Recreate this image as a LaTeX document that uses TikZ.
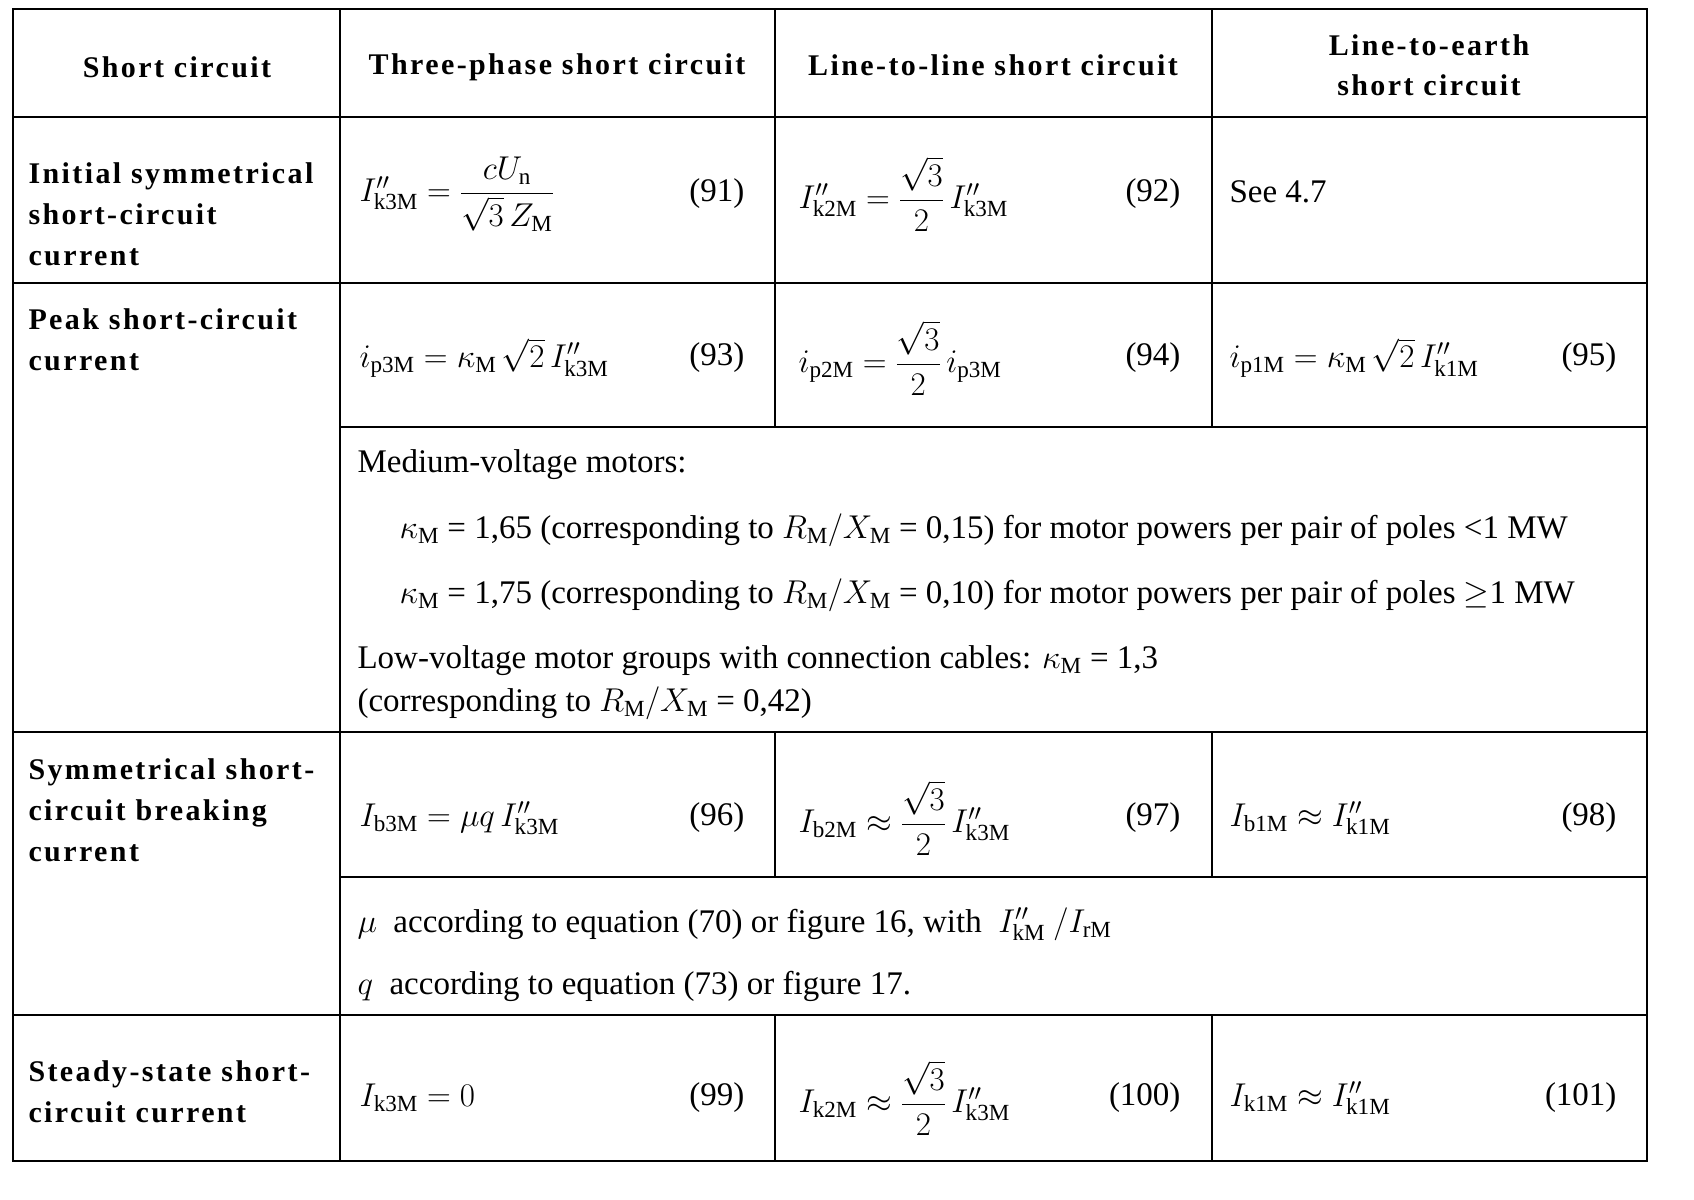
\documentclass[tikz,border=0pt]{standalone}
\usepackage{fix-cm}
\usepackage{amsmath}
\usepackage{fontspec}
\setmainfont{Liberation Serif}
\newfontfamily\hdfont[LetterSpace=8]{Liberation Serif}
\begin{document}
\begin{tikzpicture}[x=1pt,y=-1pt,
  ln/.style={line width=2.2pt},
  hd/.style={font=\fontsize{30}{40}\hdfont\bfseries, align=center},
  lb/.style={font=\fontsize{30}{41}\hdfont\bfseries, align=left, anchor=west},
  tx/.style={font=\fontsize{33}{42}\selectfont, anchor=west},
  fm/.style={font=\fontsize{33}{42}\selectfont, anchor=west},
  nr/.style={font=\fontsize{33}{40}\selectfont, anchor=east}]
\useasboundingbox (0,0) rectangle (1694,1199);
% grid
\draw[ln] (13,9) rectangle (1647,1161);
\foreach \y in {117,283,732,1015} \draw[ln] (13,\y) -- (1647,\y);
\foreach \y in {427,877} \draw[ln] (340,\y) -- (1647,\y);
\draw[ln] (340,9) -- (340,1161);
\draw[ln] (775,9) -- (775,427); \draw[ln] (1212,9) -- (1212,427);
\draw[ln] (775,732) -- (775,877); \draw[ln] (1212,732) -- (1212,877);
\draw[ln] (775,1015) -- (775,1161); \draw[ln] (1212,1015) -- (1212,1161);
% headers
\node[hd] (h1) at (177,67) {Short circuit};
\node[hd] (h2) at (557,67) {Three-phase short circuit};
\node[hd] (h3) at (993,65) {Line-to-line short circuit};
\node[hd] (h4) at (1429,65) {Line-to-earth\\short circuit};
% row labels
\node[lb] (r1) at (25,214) {Initial symmetrical\\short-circuit\\current};
\node[lb] (r2) at (25,340) {Peak short-circuit\\current};
\node[lb] (r3) at (25,810) {Symmetrical short-\\circuit breaking\\current};
\node[lb] (r4) at (25,1092) {Steady-state short-\\circuit current};
% row 1
\node[fm] (f91) at (356,194) {$I''_{\mathrm{k3M}}=\dfrac{cU_{\mathrm n}}{\sqrt{3}\,Z_{\mathrm M}}$};
\node[nr] (n91) at (748,194) {(91)};
\node[fm] (f92) at (795,194) {$I''_{\mathrm{k2M}}=\dfrac{\sqrt{3}}{2}\,I''_{\mathrm{k3M}}$};
\node[nr] (n92) at (1184,194) {(92)};
\node[tx] (s47) at (1226,192) {See 4.7};
% row 2
\node[fm] (f93) at (356,358) {$i_{\mathrm{p3M}}=\kappa_{\mathrm M}\,\sqrt{2}\,I''_{\mathrm{k3M}}$};
\node[nr] (n93) at (748,358) {(93)};
\node[fm] (f94) at (795,358) {$i_{\mathrm{p2M}}=\dfrac{\sqrt{3}}{2}\,i_{\mathrm{p3M}}$};
\node[nr] (n94) at (1184,358) {(94)};
\node[fm] (f95) at (1226,358) {$i_{\mathrm{p1M}}=\kappa_{\mathrm M}\,\sqrt{2}\,I''_{\mathrm{k1M}}$};
\node[nr] (n95) at (1620,358) {(95)};
\node[tx] (m1) at (354,465) {Medium-voltage motors:};
\node[tx] (m2) at (396,530) {$\kappa_{\mathrm M}$ = 1,65 (corresponding to $R_{\mathrm M}/X_{\mathrm M}$ = 0,15) for motor powers per pair of poles <1 MW};
\node[tx] (m3) at (396,595) {$\kappa_{\mathrm M}$ = 1,75 (corresponding to $R_{\mathrm M}/X_{\mathrm M}$ = 0,10) for motor powers per pair of poles $\geq$1 MW};
\node[tx] (m4) at (354,661) {Low-voltage motor groups with connection cables: $\kappa_{\mathrm M}$ = 1,3};
\node[tx] (m5) at (354,703) {(corresponding to $R_{\mathrm M}/X_{\mathrm M}$ = 0,42)};
% row 3
\node[fm] (f96) at (356,818) {$I_{\mathrm{b3M}}=\mu q\,I''_{\mathrm{k3M}}$};
\node[nr] (n96) at (748,818) {(96)};
\node[fm] (f97) at (795,818) {$I_{\mathrm{b2M}}\approx\dfrac{\sqrt{3}}{2}\,I''_{\mathrm{k3M}}$};
\node[nr] (n97) at (1184,818) {(97)};
\node[fm] (f98) at (1226,818) {$I_{\mathrm{b1M}}\approx I''_{\mathrm{k1M}}$};
\node[nr] (n98) at (1620,818) {(98)};
\node[tx] (mu) at (354,924) {$\mu$\ \ according to equation (70) or figure 16, with\ \ $I''_{\mathrm{kM}}\ /I_{\mathrm{rM}}$};
\node[tx] (q) at (354,986) {$q$\ \ according to equation (73) or figure 17.};
% row 4
\node[fm] (f99) at (356,1098) {$I_{\mathrm{k3M}}=0$};
\node[nr] (n99) at (748,1098) {(99)};
\node[fm] (f100) at (795,1098) {$I_{\mathrm{k2M}}\approx\dfrac{\sqrt{3}}{2}\,I''_{\mathrm{k3M}}$};
\node[nr] (n100) at (1184,1098) {(100)};
\node[fm] (f101) at (1226,1098) {$I_{\mathrm{k1M}}\approx I''_{\mathrm{k1M}}$};
\node[nr] (n101) at (1620,1098) {(101)};
\end{tikzpicture}
\end{document}
